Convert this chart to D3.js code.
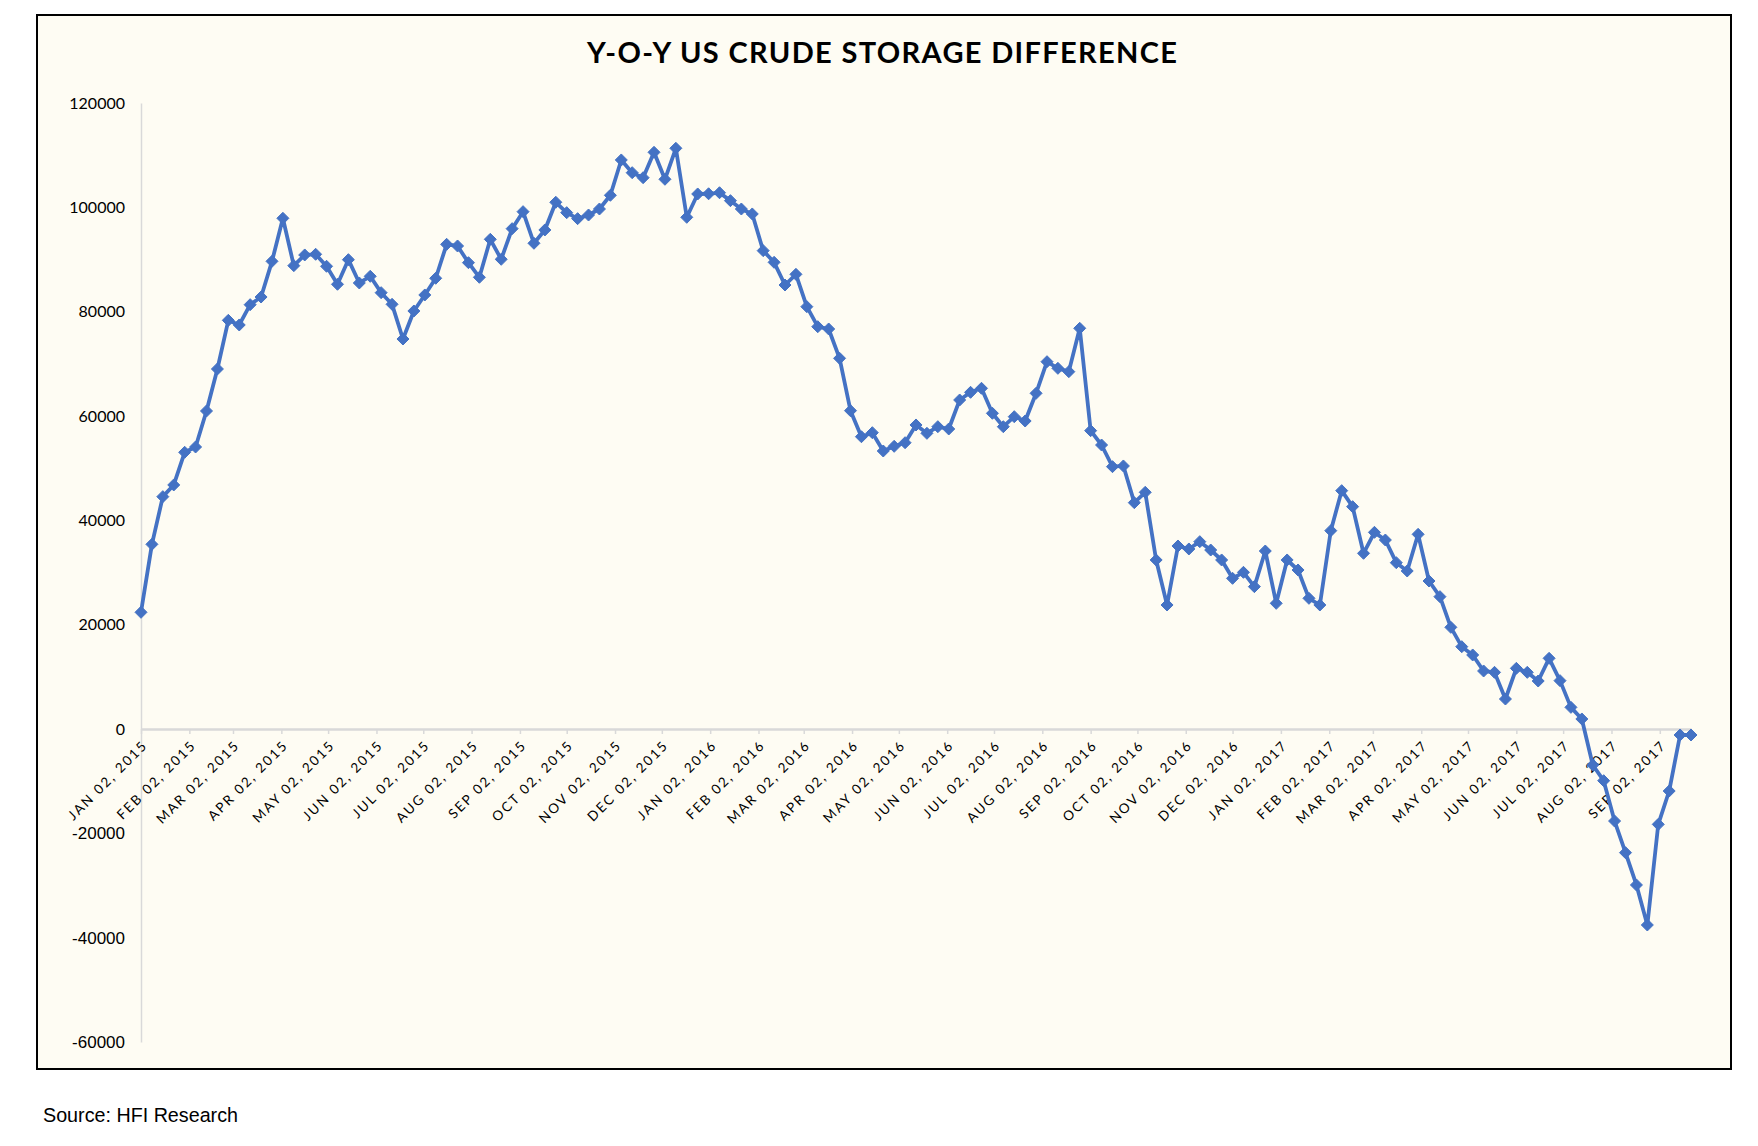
<!DOCTYPE html>
<html>
<head>
<meta charset="utf-8">
<script src="https://cdn.jsdelivr.net/npm/d3@7"></script>
<style>
  html, body { margin: 0; padding: 0; background: #ffffff; }
  svg { display: block; }
</style>
</head>
<body>
<svg id="chart" width="1758" height="1146"></svg>
<script>
// ---------- DATA ----------
const titleText = "Y-O-Y US CRUDE STORAGE DIFFERENCE";
const sourceText = "Source: HFI Research";
const firstWeek = "JAN 02, 2015";   // weekly observations start here, one every 7 days

const values = [
  22370, 35400, 44540, 46780, 53040, 54060, 60960, 69010, 78340, 77450,
  81340, 82810, 89650, 97900, 88820, 90870, 91000, 88700, 85250, 89970,
  85500, 86780, 83640, 81410, 74760, 80130, 83200, 86400, 92910, 92590,
  89390, 86590, 93870, 90040, 95910, 99170, 93110, 95660, 100970, 98980,
  97830, 98530, 99680, 102310, 109080, 106640, 105680, 110550, 105380, 111320,
  98090, 102560, 102600, 102800, 101280, 99680, 98730, 91700, 89460, 85110,
  87160, 80960, 77120, 76680, 71060, 61020, 56030, 56800, 53290, 54190,
  54880, 58280, 56680, 57950, 57510, 63070, 64540, 65310, 60520, 57950,
  59870, 59040, 64350, 70410, 69140, 68500, 76810, 57190, 54440, 50290,
  50420, 43390, 45370, 32400, 23770, 35080, 34510, 35910, 34310, 32400,
  28880, 30030, 27290, 34120, 24090, 32400, 30480, 25050, 23770, 38020,
  45690, 42620, 33680, 37700, 36230, 31880, 30290, 37320, 28370, 25370,
  19490, 15780, 14190, 11120, 10860, 5750, 11630, 10860, 9200, 13550,
  9270, 4150, 1920, -6900, -9910, -17640, -23710, -29900, -37570, -18280,
  -11890, -1150, -1150
];

const xTickLabels = [
  "JAN 02, 2015", "FEB 02, 2015", "MAR 02, 2015", "APR 02, 2015", "MAY 02, 2015", "JUN 02, 2015",
  "JUL 02, 2015", "AUG 02, 2015", "SEP 02, 2015", "OCT 02, 2015", "NOV 02, 2015", "DEC 02, 2015",
  "JAN 02, 2016", "FEB 02, 2016", "MAR 02, 2016", "APR 02, 2016", "MAY 02, 2016", "JUN 02, 2016",
  "JUL 02, 2016", "AUG 02, 2016", "SEP 02, 2016", "OCT 02, 2016", "NOV 02, 2016", "DEC 02, 2016",
  "JAN 02, 2017", "FEB 02, 2017", "MAR 02, 2017", "APR 02, 2017", "MAY 02, 2017", "JUN 02, 2017",
  "JUL 02, 2017", "AUG 02, 2017", "SEP 02, 2017"
];

const yTickValues = [120000, 100000, 80000, 60000, 40000, 20000, 0, -20000, -40000, -60000];

// ---------- SETUP ----------
const parse = d3.timeParse("%b %d, %Y");
const start = parse(firstWeek);
const dates = values.map((v, i) => d3.timeDay.offset(start, 7 * i));
const points = values.map((v, i) => ({ date: dates[i], value: v }));
const tickDates = xTickLabels.map(parse);

const svg = d3.select("#chart");

// chart frame
svg.append("rect")
  .attr("x", 37).attr("y", 15)
  .attr("width", 1694).attr("height", 1054)
  .attr("fill", "#FEFCF3")
  .attr("stroke", "#000000")
  .attr("stroke-width", 2);

const x = d3.scaleTime()
  .domain([dates[0], dates[dates.length - 1]])
  .range([141, 1691]);

const y = d3.scaleLinear()
  .domain([-60000, 120000])
  .range([1042, 103]);

// title
svg.append("text")
  .attr("x", 882).attr("y", 63)
  .attr("text-anchor", "middle")
  .attr("font-family", "Lato, 'Open Sans', sans-serif")
  .attr("font-weight", "bold")
  .attr("font-size", 29)
  .attr("textLength", 590)
  .attr("lengthAdjust", "spacing")
  .attr("fill", "#000")
  .text(titleText);

// y axis
const yAxis = d3.axisLeft(y)
  .tickValues(yTickValues)
  .tickSize(0)
  .tickPadding(16)
  .tickFormat(d => String(d));

const gy = svg.append("g")
  .attr("transform", `translate(${x.range()[0]},0)`)
  .call(yAxis);
gy.select(".domain").attr("stroke", "#D9D9D9").attr("stroke-width", 1.5);
gy.selectAll(".tick text")
  .attr("fill", "#000")
  .attr("font-size", d => d < 0 ? 17 : 16)
  .attr("font-family", d => d < 0 ? "'Liberation Sans Narrow', 'Liberation Sans', Arial, sans-serif" : "Lato, 'Open Sans', sans-serif");

// x axis at zero
const xAxis = d3.axisBottom(x)
  .tickValues(tickDates)
  .tickSize(5)
  .tickSizeOuter(0)
  .tickFormat((d, i) => xTickLabels[i]);

const gx = svg.append("g")
  .attr("transform", `translate(0,${y(0)})`)
  .call(xAxis);
gx.select(".domain").attr("stroke", "#D9D9D9").attr("stroke-width", 2.5);
gx.selectAll(".tick line").attr("stroke", "#D9D9D9").attr("stroke-width", 1.5);
gx.selectAll(".tick text")
  .attr("fill", "#000")
  .attr("font-family", "Lato, 'Open Sans', sans-serif")
  .attr("font-size", 13.5)
  .attr("letter-spacing", 2)
  .attr("text-anchor", "end")
  .attr("y", 0)
  .attr("dy", 0)
  .attr("transform", "translate(7,17) rotate(-45)");

// line
const line = d3.line()
  .x(d => x(d.date))
  .y(d => y(d.value));

svg.append("path")
  .datum(points)
  .attr("fill", "none")
  .attr("stroke", "#4472C4")
  .attr("stroke-width", 3.8)
  .attr("stroke-linejoin", "round")
  .attr("d", line);

// diamond markers
const r = 6;
const diamond = `M0,${-r}L${r},0L0,${r}L${-r},0Z`;
svg.append("g")
  .selectAll("path")
  .data(points)
  .join("path")
  .attr("d", diamond)
  .attr("transform", d => `translate(${x(d.date)},${y(d.value)})`)
  .attr("fill", "#4472C4")
  .attr("stroke", "#4472C4")
  .attr("stroke-width", 1);

// source
svg.append("text")
  .attr("x", 43).attr("y", 1122)
  .attr("font-family", "'Liberation Sans Narrow', 'Liberation Sans', Arial, sans-serif")
  .attr("font-size", 20.5)
  .attr("textLength", 195)
  .attr("lengthAdjust", "spacingAndGlyphs")
  .attr("fill", "#000")
  .text(sourceText);
</script>
</body>
</html>
